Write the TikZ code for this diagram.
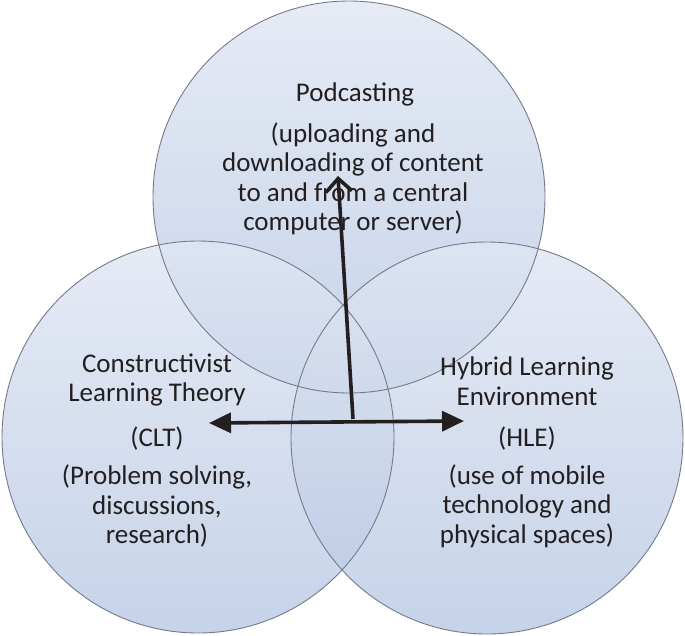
\documentclass[tikz,border=0pt]{standalone}
\usepackage{fontspec}
\setmainfont{Carlito}
\usetikzlibrary{arrows.meta}
\definecolor{ctop}{HTML}{E0E6F3}
\definecolor{cbot}{HTML}{B8C8E4}
\definecolor{cedge}{HTML}{737B8A}
\definecolor{ink}{HTML}{231F20}
\tikzset{
  venn/.style={circle, minimum size=392pt, inner sep=0pt, outer sep=0pt},
  vennfill/.style={venn, top color=ctop, bottom color=cbot, fill opacity=0.8, draw=none},
  vennedge/.style={venn, draw=cedge, line width=0.9pt},
  lbl/.style={align=center, text=ink, font=\fontsize{27}{29.5}\selectfont, inner sep=0pt},
  conn/.style={line width=3.6pt, draw=ink},
}
\begin{document}
\begin{tikzpicture}[x=1pt,y=-1pt]
\useasboundingbox (0,0) rectangle (685,635);
\fill[white] (0,0) rectangle (685,635);
% fills
\node[vennfill] (topf) at (349,197) {};
\node[vennfill] (leftf) at (198,437) {};
\node[vennfill] (rightf) at (487,438) {};
% edges
\node[vennedge] (top) at (349,197) {};
\node[vennedge] (left) at (198,437) {};
\node[vennedge] (right) at (487,438) {};
% texts
\node[lbl] (t1) at (355,94) {Podcasting};
\node[lbl] (t2) at (353,179) {(uploading and\\downloading of content\\to and from a central\\computer or server)};
\node[lbl] (l1) at (157,380) {Constructivist\\Learning Theory};
\node[lbl] (l2) at (157,438) {(CLT)};
\node[lbl] (l3) at (157,506) {(Problem solving,\\discussions,\\research)};
\node[lbl] (r1) at (527,381) {Hybrid Learning\\Environment};
\node[lbl] (r2) at (527,438) {(HLE)};
\node[lbl] (r3) at (527,506) {(use of mobile\\technology and\\physical spaces)};
% connectors
\coordinate (hub) at (353,419);
\coordinate (upend) at (338,176);
\coordinate (lend) at (209,423);
\coordinate (rend) at (464,421);
\draw[conn, {Triangle[length=22pt,width=20pt]}-{Triangle[length=22pt,width=20pt]}] (lend) -- (rend);
\draw[conn, -{Straight Barb[length=13pt,width=26pt]}] (hub) -- (upend);
\end{tikzpicture}
\end{document}
